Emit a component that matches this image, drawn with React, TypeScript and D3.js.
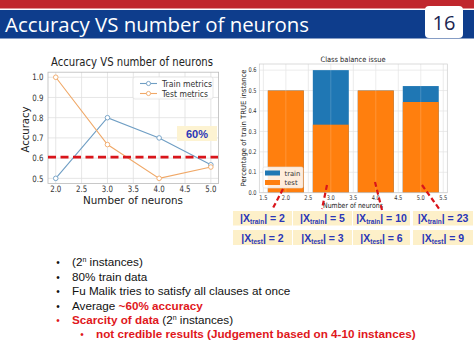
import React from "react";
import * as d3 from "d3";

const neurons = [2, 3, 4, 5];
const trainAcc = [0.5, 0.8, 0.7, 0.567];
const testAcc = [1.0, 0.667, 0.5, 0.556];
const accYTicks = [0.5, 0.6, 0.7, 0.8, 0.9, 1.0];
const accXTicks = [2.0, 2.5, 3.0, 3.5, 4.0, 4.5, 5.0];
const avgLine = 0.605;

const trainTrue = [0.5, 0.6, 0.5, 0.522];
const testTrue = [0.5, 0.333, 0.5, 0.444];
const balYTicks = [0.0, 0.1, 0.2, 0.3, 0.4, 0.5, 0.6];
const balXTicks = [1.5, 2.0, 2.5, 3.0, 3.5, 4.0, 4.5, 5.0, 5.5];
const trainSizes = [2, 5, 10, 23];
const testSizes = [2, 3, 6, 9];

const MPL = "DejaVu Sans, sans-serif";
const ARIAL = "Liberation Sans, Arial, sans-serif";

function CT(props: {
  x: number;
  y: number;
  sx: number;
  size: number;
  anchor?: string;
  fill?: string;
  children: React.ReactNode;
}) {
  return (
    <text
      transform={`translate(${props.x},${props.y}) scale(${props.sx},1)`}
      textAnchor={props.anchor ?? "middle"}
      fontSize={props.size}
      fill={props.fill ?? "#333"}
    >
      {props.children}
    </text>
  );
}

export default function App() {
  // Left chart
  const lx = d3.scaleLinear().domain([1.85, 5.15]).range([48, 218.6]);
  const ly = d3.scaleLinear().domain([0.475, 1.025]).range([183.4, 72.2]);
  const line = d3
    .line<[number, number]>()
    .x((d) => lx(d[0]))
    .y((d) => ly(d[1]));
  const trainPts: [number, number][] = neurons.map((n, i) => [n, trainAcc[i]]);
  const testPts: [number, number][] = neurons.map((n, i) => [n, testAcc[i]]);
  const trainColor = "#6f9ec4";
  const testColor = "#f0a867";

  // Right chart
  const rx = d3.scaleLinear().domain([1.41, 5.59]).range([259.3, 447.3]);
  const ry = d3.scaleLinear().domain([0, 0.63]).range([192.7, 64]);
  const bw = rx(2.4) - rx(1.6);

  const calloutStarts: [number, number][] = [
    [283, 189],
    [327, 185],
    [375, 182],
    [422, 185],
  ];
  const calloutEnds: [number, number][] = [
    [273, 208],
    [322, 209],
    [382, 210],
    [440, 210],
  ];
  const boxX = [233, 293, 353, 413];
  const boxW = [59, 59, 57, 60];

  const bullets: { parts: { t: string; red?: boolean; bold?: boolean; sup?: boolean }[]; sub?: boolean }[] = [
    { parts: [{ t: "(2" }, { t: "n", sup: true }, { t: " instances)" }] },
    { parts: [{ t: "80% train data" }] },
    { parts: [{ t: "Fu Malik tries to satisfy all clauses at once" }] },
    { parts: [{ t: "Average " }, { t: "~60% accuracy", red: true, bold: true }] },
    {
      parts: [
        { t: "Scarcity of data", red: true, bold: true },
        { t: " (2" },
        { t: "n", sup: true },
        { t: " instances)" },
      ],
    },
    {
      parts: [{ t: "not credible results (Judgement based on 4-10 instances)", red: true, bold: true }],
      sub: true,
    },
  ];
  const bulletY = [262, 277, 291, 306, 320, 334];

  return (
    <svg
      width={474}
      height={355}
      style={{ position: "absolute", left: 0, top: 0, background: "#fff" }}
    >
      <rect x={0} y={0} width={474} height={355} fill="#fff" />
      {/* Header */}
      <rect x={0} y={0} width={474} height={8.5} fill="#c0272d" />
      <rect x={0} y={10} width={474} height={28.5} fill="#0e3d8c" />
      <text x={5} y={32} fill="#fff" fontFamily="Open Sans, sans-serif" fontSize={20} textLength={304} lengthAdjust="spacingAndGlyphs">
        Accuracy VS number of neurons
      </text>
      <rect x={425} y={6} width={38} height={32} rx={4} fill="#fff" />
      <text x={444} y={30} textAnchor="middle" fill="#1a2450" fontFamily="Open Sans, sans-serif" fontSize={20}>
        16
      </text>

      {/* Left chart */}
      <g fontFamily={MPL}>
        {accXTicks.map((t) => (
          <line key={"gx" + t} x1={lx(t)} x2={lx(t)} y1={72.2} y2={183.4} stroke="#e0e0e0" strokeWidth={0.8} />
        ))}
        {accYTicks.map((t) => (
          <line key={"gy" + t} x1={48} x2={218.6} y1={ly(t)} y2={ly(t)} stroke="#e0e0e0" strokeWidth={0.8} />
        ))}
        <rect x={48} y={72.2} width={170.6} height={111.2} fill="none" stroke="#bbb" strokeWidth={0.8} />
        {accXTicks.map((t) => (
          <CT key={"tx" + t} x={lx(t)} y={191.5} sx={0.8} size={8.8}>
            {t.toFixed(1)}
          </CT>
        ))}
        {accYTicks.map((t) => (
          <CT key={"ty" + t} x={43.5} y={ly(t) + 3.2} sx={0.8} size={8.8} anchor="end">
            {t.toFixed(1)}
          </CT>
        ))}
        <text x={132} y={66} textAnchor="middle" fontSize={11.5} fill="#222" textLength={162} lengthAdjust="spacingAndGlyphs">
          Accuracy VS number of neurons
        </text>
        <text x={133} y={204} textAnchor="middle" fontSize={11} fill="#222" textLength={100} lengthAdjust="spacingAndGlyphs">
          Number of neurons
        </text>
        <text transform="translate(28.5,129.5) rotate(-90)" textAnchor="middle" fontSize={11} fill="#222" textLength={46} lengthAdjust="spacingAndGlyphs">
          Accuracy
        </text>
        <path d={line(trainPts) ?? ""} fill="none" stroke={trainColor} strokeWidth={1.1} />
        <path d={line(testPts) ?? ""} fill="none" stroke={testColor} strokeWidth={1.1} />
        {trainPts.map((p, i) => (
          <circle key={"tp" + i} cx={lx(p[0])} cy={ly(p[1])} r={2.3} fill="#fff" stroke={trainColor} strokeWidth={0.9} />
        ))}
        {testPts.map((p, i) => (
          <circle key={"sp" + i} cx={lx(p[0])} cy={ly(p[1])} r={2.3} fill="#fff" stroke={testColor} strokeWidth={0.9} />
        ))}
        {/* legend */}
        <rect x={133} y={77} width={80} height={22} rx={2} fill="#fff" fillOpacity={0.85} stroke="#ddd" strokeWidth={0.7} />
        <line x1={140} x2={157} y1={83.5} y2={83.5} stroke={trainColor} strokeWidth={1.1} />
        <circle cx={148.5} cy={83.5} r={2.1} fill="#fff" stroke={trainColor} strokeWidth={0.9} />
        <text x={162} y={86.5} fontSize={8.6} fill="#333" textLength={50} lengthAdjust="spacingAndGlyphs">Train metrics</text>
        <line x1={140} x2={157} y1={93.5} y2={93.5} stroke={testColor} strokeWidth={1.1} />
        <circle cx={148.5} cy={93.5} r={2.1} fill="#fff" stroke={testColor} strokeWidth={0.9} />
        <text x={162} y={96.5} fontSize={8.6} fill="#333" textLength={46} lengthAdjust="spacingAndGlyphs">Test metrics</text>
        {/* 60% box */}
        <rect x={177} y={126} width={40} height={15} fill="#fdf3d2" />
        <text x={197} y={137.5} textAnchor="middle" fontFamily={ARIAL} fontWeight="bold" fontSize={11} fill="#2a36b8">
          60%
        </text>
        {/* average line */}
        <line x1={48} x2={218} y1={ly(avgLine)} y2={ly(avgLine)} stroke="#d9151b" strokeWidth={2.6} strokeDasharray="8,4.5" />
      </g>

      {/* Right chart */}
      <g fontFamily={MPL}>
        {balXTicks.map((t) => (
          <line key={"rgx" + t} x1={rx(t)} x2={rx(t)} y1={64} y2={192.7} stroke="#e2e2e2" strokeWidth={0.7} />
        ))}
        {balYTicks.map((t) => (
          <line key={"rgy" + t} x1={259.3} x2={447.3} y1={ry(t)} y2={ry(t)} stroke="#e2e2e2" strokeWidth={0.7} />
        ))}
        {neurons.map((n, i) => (
          <rect key={"tb" + i} x={rx(n) - bw / 2} y={ry(trainTrue[i])} width={bw} height={ry(0) - ry(trainTrue[i])} fill="#1f77b4" />
        ))}
        {neurons.map((n, i) => (
          <rect key={"sb" + i} x={rx(n) - bw / 2} y={ry(testTrue[i])} width={bw} height={ry(0) - ry(testTrue[i])} fill="#ff7f0e" />
        ))}
        {neurons.map((n) => (
          <line key={"ov" + n} x1={rx(n)} x2={rx(n)} y1={64} y2={192.7} stroke="#ffffff" strokeOpacity={0.25} strokeWidth={0.7} />
        ))}
        <rect x={259.3} y={64} width={188} height={128.7} fill="none" stroke="#ccc" strokeWidth={0.7} />
        {balXTicks.map((t) => (
          <CT key={"rtx" + t} x={rx(t)} y={199.5} sx={0.78} size={6.5}>
            {t.toFixed(1)}
          </CT>
        ))}
        {balYTicks.map((t) => (
          <CT key={"rty" + t} x={256.5} y={ry(t) + 2.2} sx={0.78} size={6.5} anchor="end">
            {t.toFixed(1)}
          </CT>
        ))}
        <text x={353} y={62} textAnchor="middle" fontSize={7.4} fill="#222" textLength={65} lengthAdjust="spacingAndGlyphs">
          Class balance issue
        </text>
        <text x={353} y={208} textAnchor="middle" fontSize={7.4} fill="#222" textLength={60} lengthAdjust="spacingAndGlyphs">
          Number of neurons
        </text>
        <text transform="translate(246,128) rotate(-90)" textAnchor="middle" fontSize={7.2} fill="#222" textLength={117} lengthAdjust="spacingAndGlyphs">
          Percentage of train TRUE instance
        </text>
        {/* legend */}
        <rect x={263} y={167} width={40} height={21} rx={1.5} fill="#fff" fillOpacity={0.85} stroke="#ddd" strokeWidth={0.6} />
        <rect x={265} y={170.5} width={15} height={5} fill="#1f77b4" />
        <text x={284.5} y={175.5} fontSize={6.8} fill="#333">train</text>
        <rect x={265} y={180} width={15} height={5} fill="#ff7f0e" />
        <text x={284.5} y={185} fontSize={6.8} fill="#333">test</text>
      </g>

      {/* Callout lines */}
      {calloutStarts.map((s, i) => (
        <line
          key={"cl" + i}
          x1={s[0]}
          y1={s[1]}
          x2={calloutEnds[i][0]}
          y2={calloutEnds[i][1]}
          stroke="#d9151b"
          strokeWidth={2.2}
          strokeDasharray="5,3"
        />
      ))}

      {/* Size boxes */}
      <g fontFamily={ARIAL} fontWeight="bold" fill="#2a36b8">
        {trainSizes.map((v, i) => (
          <g key={"trs" + i}>
            <rect x={boxX[i]} y={211} width={boxW[i]} height={14.5} fill="#fdf0c9" />
            <text x={boxX[i] + boxW[i] / 2} y={222.3} textAnchor="middle" fontSize={10.5}>
              |X<tspan fontSize={6.5} dy={2}>train</tspan>
              <tspan dy={-2}>| = {v}</tspan>
            </text>
          </g>
        ))}
        {testSizes.map((v, i) => (
          <g key={"tes" + i}>
            <rect x={boxX[i]} y={230} width={boxW[i]} height={15} fill="#fdf0c9" />
            <text x={boxX[i] + boxW[i] / 2} y={241.5} textAnchor="middle" fontSize={10.5}>
              |X<tspan fontSize={6.5} dy={2}>test</tspan>
              <tspan dy={-2}>| = {v}</tspan>
            </text>
          </g>
        ))}
      </g>

      {/* Bullets */}
      <g fontFamily={ARIAL} fontSize={11.7}>
        {bullets.map((b, i) => {
          const y = bulletY[i] + 4;
          const bx = b.sub ? 82 : 58;
          const tx = b.sub ? 96 : 72;
          const bulletRed = i >= 4;
          return (
            <g key={"b" + i}>
              <text x={bx} y={y} textAnchor="middle" fill={bulletRed ? "#e0171c" : "#111"} fontSize={10}>
                •
              </text>
              <text x={tx} y={y} fill="#111">
                {b.parts.map((p, j) => (
                  <tspan
                    key={j}
                    fill={p.red ? "#e0171c" : "#111"}
                    fontWeight={p.bold ? "bold" : "normal"}
                    fontSize={p.sup ? 7 : undefined}
                    dy={p.sup ? -4.5 : j > 0 && b.parts[j - 1].sup ? 4.5 : 0}
                  >
                    {p.t}
                  </tspan>
                ))}
              </text>
            </g>
          );
        })}
      </g>
    </svg>
  );
}
